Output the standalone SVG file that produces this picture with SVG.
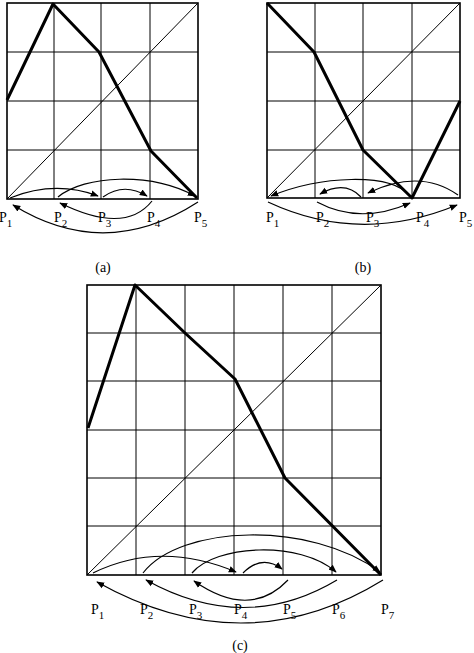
<svg xmlns="http://www.w3.org/2000/svg" width="474" height="653" viewBox="0 0 474 653">
<defs>
<marker id="ah" viewBox="0 0 10 10" refX="9" refY="5" markerWidth="8" markerHeight="8" markerUnits="userSpaceOnUse" orient="auto">
<path d="M0,1 L10,5 L0,9 Z" fill="#000"/>
</marker>
<style>
.grid{stroke:#000;stroke-width:1;fill:none}
.frame{stroke:#000;stroke-width:1.6;fill:none}
.diag{stroke:#000;stroke-width:1;fill:none}
.thick{stroke:#000;stroke-width:3;fill:none;stroke-linejoin:round}
.arr{stroke:#000;stroke-width:1.2;fill:none;marker-end:url(#ah)}
.lbl{font-family:"Liberation Serif",serif;font-size:14px;fill:#000}
.sub{font-size:11px}
.cap{font-family:"Liberation Serif",serif;font-size:14px;fill:#000;text-anchor:middle}
</style>
</defs>
<rect width="474" height="653" fill="#fff"/>

<g id="panel-a">
<path class="grid" d="M54,3V199M101,3V199M150,3V199M7,52H198M7,101H198M7,150H198"/>
<rect class="frame" x="7" y="3" width="191" height="196"/>
<path class="diag" d="M7,199L198,3"/>
<path class="thick" d="M7,100L53,4L99,52L151,151L197,198"/>
<text class="lbl" x="-1" y="222">P<tspan class="sub" dy="5">1</tspan></text>
<text class="lbl" x="54" y="222">P<tspan class="sub" dy="5">2</tspan></text>
<text class="lbl" x="98" y="222">P<tspan class="sub" dy="5">3</tspan></text>
<text class="lbl" x="147" y="222">P<tspan class="sub" dy="5">4</tspan></text>
<text class="lbl" x="194" y="222">P<tspan class="sub" dy="5">5</tspan></text>
<text class="cap" x="103" y="272">(a)</text>
</g>

<g id="panel-b">
<path class="grid" d="M315,3V198M363,3V198M412,3V198M267,52H460M267,101H460M267,150H460"/>
<rect class="frame" x="267" y="3" width="193" height="195"/>
<path class="diag" d="M267,198L460,3"/>
<path class="thick" d="M267,3L314,52L363,150L412,198L460,101"/>
<text class="lbl" x="266" y="222">P<tspan class="sub" dy="5">1</tspan></text>
<text class="lbl" x="316" y="222">P<tspan class="sub" dy="5">2</tspan></text>
<text class="lbl" x="366" y="222">P<tspan class="sub" dy="5">3</tspan></text>
<text class="lbl" x="416" y="222">P<tspan class="sub" dy="5">4</tspan></text>
<text class="lbl" x="459" y="222">P<tspan class="sub" dy="5">5</tspan></text>
<text class="cap" x="363" y="272">(b)</text>
</g>

<g id="panel-c">
<path class="grid" d="M136,285V575M185,285V575M234,285V575M283,285V575M332,285V575M87,333H381M87,381H381M87,430H381M87,478H381M87,526H381"/>
<rect class="frame" x="87" y="285" width="294" height="290"/>
<path class="diag" d="M87,575L381,285"/>
<path class="thick" d="M88,428L135,285L185,333L235,379L285,478L381,575"/>
<text class="lbl" x="91" y="614">P<tspan class="sub" dy="5">1</tspan></text>
<text class="lbl" x="140" y="614">P<tspan class="sub" dy="5">2</tspan></text>
<text class="lbl" x="189" y="614">P<tspan class="sub" dy="5">3</tspan></text>
<text class="lbl" x="234" y="614">P<tspan class="sub" dy="5">4</tspan></text>
<text class="lbl" x="283" y="614">P<tspan class="sub" dy="5">5</tspan></text>
<text class="lbl" x="332" y="614">P<tspan class="sub" dy="5">6</tspan></text>
<text class="lbl" x="381" y="614">P<tspan class="sub" dy="5">7</tspan></text>
<text class="cap" x="240" y="650">(c)</text>
</g>

<g id="connectors">
<path class="arr" d="M10,198 Q55,180 98,196"/>
<path class="arr" d="M58,197 C85,175 150,172 195,196"/>
<path class="arr" d="M103,197 Q124,182 147,196"/>
<path class="arr" d="M152,201 Q125,235 60,203"/>
<path class="arr" d="M198,202 Q105,262 13,205"/>

<path class="arr" d="M410,196 C390,172 320,176 271,196"/>
<path class="arr" d="M458,195 Q420,168 368,193"/>
<path class="arr" d="M361,197 Q345,180 320,194"/>
<path class="arr" d="M317,202 Q360,225 410,203"/>
<path class="arr" d="M268,202 Q360,245 457,205"/>

<path class="arr" d="M93,573 Q160,540 236,572"/>
<path class="arr" d="M143,573 C180,525 310,520 380,572"/>
<path class="arr" d="M192,573 C215,545 300,540 336,572"/>
<path class="arr" d="M243,573 Q262,554 282,569"/>
<path class="arr" d="M288,580 Q250,620 194,581"/>
<path class="arr" d="M337,580 Q245,635 146,580"/>
<path class="arr" d="M383,580 Q245,665 97,582"/>
</g>
</svg>
